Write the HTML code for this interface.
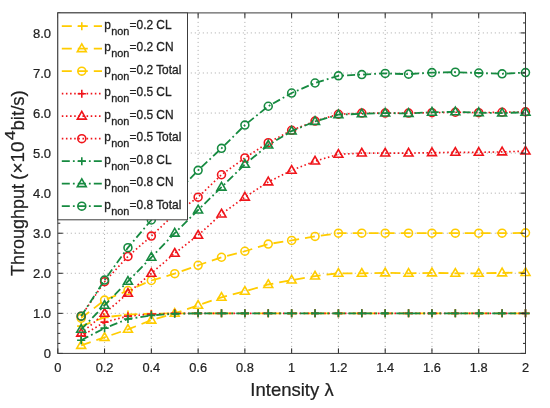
<!DOCTYPE html>
<html><head><meta charset="utf-8"><title>Throughput vs Intensity</title>
<style>html,body{margin:0;padding:0;background:#fff}svg{display:block}</style></head>
<body>
<svg width="550" height="408" viewBox="0 0 550 408" font-family="&quot;Liberation Sans&quot;, sans-serif">
<rect width="550" height="408" fill="#fff"/>
<path d="M104.57 13.90V353.40M151.34 13.90V353.40M198.11 13.90V353.40M244.88 13.90V353.40M291.65 13.90V353.40M338.42 13.90V353.40M385.19 13.90V353.40M431.96 13.90V353.40M478.73 13.90V353.40M58.80 313.34H525.50M58.80 273.28H525.50M58.80 233.22H525.50M58.80 193.16H525.50M58.80 153.11H525.50M58.80 113.05H525.50M58.80 72.99H525.50M58.80 32.93H525.50" stroke="#a8a8a8" stroke-width="1" stroke-dasharray="1 3" fill="none"/>
<g>
<polyline points="81.19,326.16 104.57,317.35 127.95,314.54 151.34,313.74 174.72,313.34 198.11,313.34 221.50,313.34 244.88,313.34 268.26,313.34 291.65,313.34 315.04,313.34 338.42,313.34 361.81,313.34 385.19,313.34 408.57,313.34 431.96,313.34 455.34,313.34 478.73,313.34 502.11,313.34 525.50,313.34" fill="none" stroke="#FFCC00" stroke-width="1.8" stroke-dasharray="10 6"/>
<path d="M77.09 326.16H85.28M81.19 322.16V330.16" stroke="#FFCC00" stroke-width="1.6" fill="none"/><path d="M100.47 317.35H108.67M104.57 313.35V321.35" stroke="#FFCC00" stroke-width="1.6" fill="none"/><path d="M123.86 314.54H132.06M127.95 310.54V318.54" stroke="#FFCC00" stroke-width="1.6" fill="none"/><path d="M147.24 313.74H155.44M151.34 309.74V317.74" stroke="#FFCC00" stroke-width="1.6" fill="none"/><path d="M170.62 313.34H178.82M174.72 309.34V317.34" stroke="#FFCC00" stroke-width="1.6" fill="none"/><path d="M194.01 313.34H202.21M198.11 309.34V317.34" stroke="#FFCC00" stroke-width="1.6" fill="none"/><path d="M217.40 313.34H225.59M221.50 309.34V317.34" stroke="#FFCC00" stroke-width="1.6" fill="none"/><path d="M240.78 313.34H248.98M244.88 309.34V317.34" stroke="#FFCC00" stroke-width="1.6" fill="none"/><path d="M264.16 313.34H272.37M268.26 309.34V317.34" stroke="#FFCC00" stroke-width="1.6" fill="none"/><path d="M287.55 313.34H295.75M291.65 309.34V317.34" stroke="#FFCC00" stroke-width="1.6" fill="none"/><path d="M310.94 313.34H319.14M315.04 309.34V317.34" stroke="#FFCC00" stroke-width="1.6" fill="none"/><path d="M334.32 313.34H342.52M338.42 309.34V317.34" stroke="#FFCC00" stroke-width="1.6" fill="none"/><path d="M357.70 313.34H365.91M361.81 309.34V317.34" stroke="#FFCC00" stroke-width="1.6" fill="none"/><path d="M381.09 313.34H389.29M385.19 309.34V317.34" stroke="#FFCC00" stroke-width="1.6" fill="none"/><path d="M404.47 313.34H412.68M408.57 309.34V317.34" stroke="#FFCC00" stroke-width="1.6" fill="none"/><path d="M427.86 313.34H436.06M431.96 309.34V317.34" stroke="#FFCC00" stroke-width="1.6" fill="none"/><path d="M451.24 313.34H459.44M455.34 309.34V317.34" stroke="#FFCC00" stroke-width="1.6" fill="none"/><path d="M474.63 313.34H482.83M478.73 309.34V317.34" stroke="#FFCC00" stroke-width="1.6" fill="none"/><path d="M498.01 313.34H506.21M502.11 309.34V317.34" stroke="#FFCC00" stroke-width="1.6" fill="none"/><path d="M521.40 313.34H529.60M525.50 309.34V317.34" stroke="#FFCC00" stroke-width="1.6" fill="none"/>

<polyline points="81.19,345.39 104.57,337.38 127.95,329.36 151.34,320.15 174.72,313.34 198.11,305.33 221.50,297.32 244.88,291.31 268.26,284.50 291.65,280.09 315.04,276.09 338.42,273.28 361.81,273.28 385.19,272.88 408.57,273.28 431.96,272.88 455.34,273.28 478.73,273.28 502.11,272.88 525.50,272.48" fill="none" stroke="#FFCC00" stroke-width="1.8" stroke-dasharray="10 6"/>
<path d="M81.19 340.64L85.64 348.34H76.73Z" stroke="#FFCC00" stroke-width="1.6" fill="none" stroke-linejoin="miter"/><path d="M104.57 332.63L109.02 340.33H100.12Z" stroke="#FFCC00" stroke-width="1.6" fill="none" stroke-linejoin="miter"/><path d="M127.95 324.61L132.41 332.31H123.50Z" stroke="#FFCC00" stroke-width="1.6" fill="none" stroke-linejoin="miter"/><path d="M151.34 315.40L155.79 323.10H146.89Z" stroke="#FFCC00" stroke-width="1.6" fill="none" stroke-linejoin="miter"/><path d="M174.72 308.59L179.17 316.29H170.28Z" stroke="#FFCC00" stroke-width="1.6" fill="none" stroke-linejoin="miter"/><path d="M198.11 300.58L202.56 308.28H193.66Z" stroke="#FFCC00" stroke-width="1.6" fill="none" stroke-linejoin="miter"/><path d="M221.50 292.57L225.94 300.27H217.05Z" stroke="#FFCC00" stroke-width="1.6" fill="none" stroke-linejoin="miter"/><path d="M244.88 286.56L249.33 294.26H240.43Z" stroke="#FFCC00" stroke-width="1.6" fill="none" stroke-linejoin="miter"/><path d="M268.26 279.75L272.71 287.45H263.81Z" stroke="#FFCC00" stroke-width="1.6" fill="none" stroke-linejoin="miter"/><path d="M291.65 275.34L296.10 283.04H287.20Z" stroke="#FFCC00" stroke-width="1.6" fill="none" stroke-linejoin="miter"/><path d="M315.04 271.34L319.49 279.04H310.59Z" stroke="#FFCC00" stroke-width="1.6" fill="none" stroke-linejoin="miter"/><path d="M338.42 268.53L342.87 276.23H333.97Z" stroke="#FFCC00" stroke-width="1.6" fill="none" stroke-linejoin="miter"/><path d="M361.81 268.53L366.25 276.23H357.36Z" stroke="#FFCC00" stroke-width="1.6" fill="none" stroke-linejoin="miter"/><path d="M385.19 268.13L389.64 275.83H380.74Z" stroke="#FFCC00" stroke-width="1.6" fill="none" stroke-linejoin="miter"/><path d="M408.57 268.53L413.02 276.23H404.12Z" stroke="#FFCC00" stroke-width="1.6" fill="none" stroke-linejoin="miter"/><path d="M431.96 268.13L436.41 275.83H427.51Z" stroke="#FFCC00" stroke-width="1.6" fill="none" stroke-linejoin="miter"/><path d="M455.34 268.53L459.79 276.23H450.89Z" stroke="#FFCC00" stroke-width="1.6" fill="none" stroke-linejoin="miter"/><path d="M478.73 268.53L483.18 276.23H474.28Z" stroke="#FFCC00" stroke-width="1.6" fill="none" stroke-linejoin="miter"/><path d="M502.11 268.13L506.56 275.83H497.66Z" stroke="#FFCC00" stroke-width="1.6" fill="none" stroke-linejoin="miter"/><path d="M525.50 267.73L529.95 275.43H521.05Z" stroke="#FFCC00" stroke-width="1.6" fill="none" stroke-linejoin="miter"/>

<polyline points="81.19,318.15 104.57,300.12 127.95,290.51 151.34,280.49 174.72,273.68 198.11,265.27 221.50,257.26 244.88,251.25 268.26,244.04 291.65,240.43 315.04,236.43 338.42,233.22 361.81,233.22 385.19,233.22 408.57,233.22 431.96,233.22 455.34,233.22 478.73,233.22 502.11,233.22 525.50,232.82" fill="none" stroke="#FFCC00" stroke-width="1.8" stroke-dasharray="10 6"/>
<circle cx="81.19" cy="318.15" r="3.95" stroke="#FFCC00" stroke-width="1.6" fill="none"/><circle cx="104.57" cy="300.12" r="3.95" stroke="#FFCC00" stroke-width="1.6" fill="none"/><circle cx="127.95" cy="290.51" r="3.95" stroke="#FFCC00" stroke-width="1.6" fill="none"/><circle cx="151.34" cy="280.49" r="3.95" stroke="#FFCC00" stroke-width="1.6" fill="none"/><circle cx="174.72" cy="273.68" r="3.95" stroke="#FFCC00" stroke-width="1.6" fill="none"/><circle cx="198.11" cy="265.27" r="3.95" stroke="#FFCC00" stroke-width="1.6" fill="none"/><circle cx="221.50" cy="257.26" r="3.95" stroke="#FFCC00" stroke-width="1.6" fill="none"/><circle cx="244.88" cy="251.25" r="3.95" stroke="#FFCC00" stroke-width="1.6" fill="none"/><circle cx="268.26" cy="244.04" r="3.95" stroke="#FFCC00" stroke-width="1.6" fill="none"/><circle cx="291.65" cy="240.43" r="3.95" stroke="#FFCC00" stroke-width="1.6" fill="none"/><circle cx="315.04" cy="236.43" r="3.95" stroke="#FFCC00" stroke-width="1.6" fill="none"/><circle cx="338.42" cy="233.22" r="3.95" stroke="#FFCC00" stroke-width="1.6" fill="none"/><circle cx="361.81" cy="233.22" r="3.95" stroke="#FFCC00" stroke-width="1.6" fill="none"/><circle cx="385.19" cy="233.22" r="3.95" stroke="#FFCC00" stroke-width="1.6" fill="none"/><circle cx="408.57" cy="233.22" r="3.95" stroke="#FFCC00" stroke-width="1.6" fill="none"/><circle cx="431.96" cy="233.22" r="3.95" stroke="#FFCC00" stroke-width="1.6" fill="none"/><circle cx="455.34" cy="233.22" r="3.95" stroke="#FFCC00" stroke-width="1.6" fill="none"/><circle cx="478.73" cy="233.22" r="3.95" stroke="#FFCC00" stroke-width="1.6" fill="none"/><circle cx="502.11" cy="233.22" r="3.95" stroke="#FFCC00" stroke-width="1.6" fill="none"/><circle cx="525.50" cy="232.82" r="3.95" stroke="#FFCC00" stroke-width="1.6" fill="none"/>

<polyline points="81.19,336.17 104.57,322.15 127.95,316.15 151.34,314.14 174.72,313.34 198.11,313.34 221.50,313.34 244.88,313.34 268.26,313.34 291.65,313.34 315.04,313.34 338.42,313.34 361.81,313.34 385.19,313.34 408.57,313.34 431.96,313.34 455.34,313.34 478.73,313.34 502.11,313.34 525.50,313.34" fill="none" stroke="#F0141A" stroke-width="1.65" stroke-dasharray="1.55 2.58"/>
<path d="M77.09 336.17H85.28M81.19 332.17V340.17" stroke="#F0141A" stroke-width="1.6" fill="none"/><path d="M100.47 322.15H108.67M104.57 318.15V326.15" stroke="#F0141A" stroke-width="1.6" fill="none"/><path d="M123.86 316.15H132.06M127.95 312.15V320.15" stroke="#F0141A" stroke-width="1.6" fill="none"/><path d="M147.24 314.14H155.44M151.34 310.14V318.14" stroke="#F0141A" stroke-width="1.6" fill="none"/><path d="M170.62 313.34H178.82M174.72 309.34V317.34" stroke="#F0141A" stroke-width="1.6" fill="none"/><path d="M194.01 313.34H202.21M198.11 309.34V317.34" stroke="#F0141A" stroke-width="1.6" fill="none"/><path d="M217.40 313.34H225.59M221.50 309.34V317.34" stroke="#F0141A" stroke-width="1.6" fill="none"/><path d="M240.78 313.34H248.98M244.88 309.34V317.34" stroke="#F0141A" stroke-width="1.6" fill="none"/><path d="M264.16 313.34H272.37M268.26 309.34V317.34" stroke="#F0141A" stroke-width="1.6" fill="none"/><path d="M287.55 313.34H295.75M291.65 309.34V317.34" stroke="#F0141A" stroke-width="1.6" fill="none"/><path d="M310.94 313.34H319.14M315.04 309.34V317.34" stroke="#F0141A" stroke-width="1.6" fill="none"/><path d="M334.32 313.34H342.52M338.42 309.34V317.34" stroke="#F0141A" stroke-width="1.6" fill="none"/><path d="M357.70 313.34H365.91M361.81 309.34V317.34" stroke="#F0141A" stroke-width="1.6" fill="none"/><path d="M381.09 313.34H389.29M385.19 309.34V317.34" stroke="#F0141A" stroke-width="1.6" fill="none"/><path d="M404.47 313.34H412.68M408.57 309.34V317.34" stroke="#F0141A" stroke-width="1.6" fill="none"/><path d="M427.86 313.34H436.06M431.96 309.34V317.34" stroke="#F0141A" stroke-width="1.6" fill="none"/><path d="M451.24 313.34H459.44M455.34 309.34V317.34" stroke="#F0141A" stroke-width="1.6" fill="none"/><path d="M474.63 313.34H482.83M478.73 309.34V317.34" stroke="#F0141A" stroke-width="1.6" fill="none"/><path d="M498.01 313.34H506.21M502.11 309.34V317.34" stroke="#F0141A" stroke-width="1.6" fill="none"/><path d="M521.40 313.34H529.60M525.50 309.34V317.34" stroke="#F0141A" stroke-width="1.6" fill="none"/>

<polyline points="81.19,333.37 104.57,313.34 127.95,293.31 151.34,273.28 174.72,253.25 198.11,235.23 221.50,214.00 244.88,197.17 268.26,181.95 291.65,170.33 315.04,161.12 338.42,154.31 361.81,153.11 385.19,153.11 408.57,153.11 431.96,152.71 455.34,152.30 478.73,152.30 502.11,151.90 525.50,151.10" fill="none" stroke="#F0141A" stroke-width="1.65" stroke-dasharray="1.55 2.58"/>
<path d="M81.19 328.62L85.64 336.32H76.73Z" stroke="#F0141A" stroke-width="1.6" fill="none" stroke-linejoin="miter"/><path d="M104.57 308.59L109.02 316.29H100.12Z" stroke="#F0141A" stroke-width="1.6" fill="none" stroke-linejoin="miter"/><path d="M127.95 288.56L132.41 296.26H123.50Z" stroke="#F0141A" stroke-width="1.6" fill="none" stroke-linejoin="miter"/><path d="M151.34 268.53L155.79 276.23H146.89Z" stroke="#F0141A" stroke-width="1.6" fill="none" stroke-linejoin="miter"/><path d="M174.72 248.50L179.17 256.20H170.28Z" stroke="#F0141A" stroke-width="1.6" fill="none" stroke-linejoin="miter"/><path d="M198.11 230.48L202.56 238.18H193.66Z" stroke="#F0141A" stroke-width="1.6" fill="none" stroke-linejoin="miter"/><path d="M221.50 209.25L225.94 216.95H217.05Z" stroke="#F0141A" stroke-width="1.6" fill="none" stroke-linejoin="miter"/><path d="M244.88 192.42L249.33 200.12H240.43Z" stroke="#F0141A" stroke-width="1.6" fill="none" stroke-linejoin="miter"/><path d="M268.26 177.20L272.71 184.90H263.81Z" stroke="#F0141A" stroke-width="1.6" fill="none" stroke-linejoin="miter"/><path d="M291.65 165.58L296.10 173.28H287.20Z" stroke="#F0141A" stroke-width="1.6" fill="none" stroke-linejoin="miter"/><path d="M315.04 156.37L319.49 164.07H310.59Z" stroke="#F0141A" stroke-width="1.6" fill="none" stroke-linejoin="miter"/><path d="M338.42 149.56L342.87 157.26H333.97Z" stroke="#F0141A" stroke-width="1.6" fill="none" stroke-linejoin="miter"/><path d="M361.81 148.36L366.25 156.06H357.36Z" stroke="#F0141A" stroke-width="1.6" fill="none" stroke-linejoin="miter"/><path d="M385.19 148.36L389.64 156.06H380.74Z" stroke="#F0141A" stroke-width="1.6" fill="none" stroke-linejoin="miter"/><path d="M408.57 148.36L413.02 156.06H404.12Z" stroke="#F0141A" stroke-width="1.6" fill="none" stroke-linejoin="miter"/><path d="M431.96 147.96L436.41 155.66H427.51Z" stroke="#F0141A" stroke-width="1.6" fill="none" stroke-linejoin="miter"/><path d="M455.34 147.55L459.79 155.25H450.89Z" stroke="#F0141A" stroke-width="1.6" fill="none" stroke-linejoin="miter"/><path d="M478.73 147.55L483.18 155.25H474.28Z" stroke="#F0141A" stroke-width="1.6" fill="none" stroke-linejoin="miter"/><path d="M502.11 147.15L506.56 154.85H497.66Z" stroke="#F0141A" stroke-width="1.6" fill="none" stroke-linejoin="miter"/><path d="M525.50 146.35L529.95 154.05H521.05Z" stroke="#F0141A" stroke-width="1.6" fill="none" stroke-linejoin="miter"/>

<polyline points="81.19,316.15 104.57,281.69 127.95,256.46 151.34,236.03 174.72,214.00 198.11,197.17 221.50,174.74 244.88,157.91 268.26,142.69 291.65,130.27 315.04,121.06 338.42,114.25 361.81,113.05 385.19,113.05 408.57,113.05 431.96,112.65 455.34,112.25 478.73,112.65 502.11,112.25 525.50,111.85" fill="none" stroke="#F0141A" stroke-width="1.65" stroke-dasharray="1.55 2.58"/>
<circle cx="81.19" cy="316.15" r="3.95" stroke="#F0141A" stroke-width="1.6" fill="none"/><circle cx="104.57" cy="281.69" r="3.95" stroke="#F0141A" stroke-width="1.6" fill="none"/><circle cx="127.95" cy="256.46" r="3.95" stroke="#F0141A" stroke-width="1.6" fill="none"/><circle cx="151.34" cy="236.03" r="3.95" stroke="#F0141A" stroke-width="1.6" fill="none"/><circle cx="174.72" cy="214.00" r="3.95" stroke="#F0141A" stroke-width="1.6" fill="none"/><circle cx="198.11" cy="197.17" r="3.95" stroke="#F0141A" stroke-width="1.6" fill="none"/><circle cx="221.50" cy="174.74" r="3.95" stroke="#F0141A" stroke-width="1.6" fill="none"/><circle cx="244.88" cy="157.91" r="3.95" stroke="#F0141A" stroke-width="1.6" fill="none"/><circle cx="268.26" cy="142.69" r="3.95" stroke="#F0141A" stroke-width="1.6" fill="none"/><circle cx="291.65" cy="130.27" r="3.95" stroke="#F0141A" stroke-width="1.6" fill="none"/><circle cx="315.04" cy="121.06" r="3.95" stroke="#F0141A" stroke-width="1.6" fill="none"/><circle cx="338.42" cy="114.25" r="3.95" stroke="#F0141A" stroke-width="1.6" fill="none"/><circle cx="361.81" cy="113.05" r="3.95" stroke="#F0141A" stroke-width="1.6" fill="none"/><circle cx="385.19" cy="113.05" r="3.95" stroke="#F0141A" stroke-width="1.6" fill="none"/><circle cx="408.57" cy="113.05" r="3.95" stroke="#F0141A" stroke-width="1.6" fill="none"/><circle cx="431.96" cy="112.65" r="3.95" stroke="#F0141A" stroke-width="1.6" fill="none"/><circle cx="455.34" cy="112.25" r="3.95" stroke="#F0141A" stroke-width="1.6" fill="none"/><circle cx="478.73" cy="112.65" r="3.95" stroke="#F0141A" stroke-width="1.6" fill="none"/><circle cx="502.11" cy="112.25" r="3.95" stroke="#F0141A" stroke-width="1.6" fill="none"/><circle cx="525.50" cy="111.85" r="3.95" stroke="#F0141A" stroke-width="1.6" fill="none"/>

<polyline points="81.19,340.18 104.57,328.16 127.95,318.95 151.34,315.34 174.72,313.74 198.11,313.34 221.50,313.34 244.88,313.34 268.26,313.34 291.65,313.34 315.04,313.34 338.42,313.34 361.81,313.34 385.19,313.34 408.57,313.34 431.96,313.34 455.34,313.34 478.73,313.34 502.11,313.34 525.50,313.34" fill="none" stroke="#168A40" stroke-width="1.8" stroke-dasharray="8 3.1 1.8 3.1"/>
<path d="M77.09 340.18H85.28M81.19 336.18V344.18" stroke="#168A40" stroke-width="1.6" fill="none"/><path d="M100.47 328.16H108.67M104.57 324.16V332.16" stroke="#168A40" stroke-width="1.6" fill="none"/><path d="M123.86 318.95H132.06M127.95 314.95V322.95" stroke="#168A40" stroke-width="1.6" fill="none"/><path d="M147.24 315.34H155.44M151.34 311.34V319.34" stroke="#168A40" stroke-width="1.6" fill="none"/><path d="M170.62 313.74H178.82M174.72 309.74V317.74" stroke="#168A40" stroke-width="1.6" fill="none"/><path d="M194.01 313.34H202.21M198.11 309.34V317.34" stroke="#168A40" stroke-width="1.6" fill="none"/><path d="M217.40 313.34H225.59M221.50 309.34V317.34" stroke="#168A40" stroke-width="1.6" fill="none"/><path d="M240.78 313.34H248.98M244.88 309.34V317.34" stroke="#168A40" stroke-width="1.6" fill="none"/><path d="M264.16 313.34H272.37M268.26 309.34V317.34" stroke="#168A40" stroke-width="1.6" fill="none"/><path d="M287.55 313.34H295.75M291.65 309.34V317.34" stroke="#168A40" stroke-width="1.6" fill="none"/><path d="M310.94 313.34H319.14M315.04 309.34V317.34" stroke="#168A40" stroke-width="1.6" fill="none"/><path d="M334.32 313.34H342.52M338.42 309.34V317.34" stroke="#168A40" stroke-width="1.6" fill="none"/><path d="M357.70 313.34H365.91M361.81 309.34V317.34" stroke="#168A40" stroke-width="1.6" fill="none"/><path d="M381.09 313.34H389.29M385.19 309.34V317.34" stroke="#168A40" stroke-width="1.6" fill="none"/><path d="M404.47 313.34H412.68M408.57 309.34V317.34" stroke="#168A40" stroke-width="1.6" fill="none"/><path d="M427.86 313.34H436.06M431.96 309.34V317.34" stroke="#168A40" stroke-width="1.6" fill="none"/><path d="M451.24 313.34H459.44M455.34 309.34V317.34" stroke="#168A40" stroke-width="1.6" fill="none"/><path d="M474.63 313.34H482.83M478.73 309.34V317.34" stroke="#168A40" stroke-width="1.6" fill="none"/><path d="M498.01 313.34H506.21M502.11 309.34V317.34" stroke="#168A40" stroke-width="1.6" fill="none"/><path d="M521.40 313.34H529.60M525.50 309.34V317.34" stroke="#168A40" stroke-width="1.6" fill="none"/>

<polyline points="81.19,329.36 104.57,305.33 127.95,281.29 151.34,257.26 174.72,233.22 198.11,209.99 221.50,187.16 244.88,164.32 268.26,145.09 291.65,131.07 315.04,121.46 338.42,114.65 361.81,113.85 385.19,113.05 408.57,113.45 431.96,112.25 455.34,111.85 478.73,112.65 502.11,113.05 525.50,112.25" fill="none" stroke="#168A40" stroke-width="1.8" stroke-dasharray="8 3.1 1.8 3.1"/>
<path d="M81.19 324.61L85.64 332.31H76.73Z" stroke="#168A40" stroke-width="1.6" fill="none" stroke-linejoin="miter"/><path d="M104.57 300.58L109.02 308.28H100.12Z" stroke="#168A40" stroke-width="1.6" fill="none" stroke-linejoin="miter"/><path d="M127.95 276.54L132.41 284.24H123.50Z" stroke="#168A40" stroke-width="1.6" fill="none" stroke-linejoin="miter"/><path d="M151.34 252.51L155.79 260.21H146.89Z" stroke="#168A40" stroke-width="1.6" fill="none" stroke-linejoin="miter"/><path d="M174.72 228.47L179.17 236.17H170.28Z" stroke="#168A40" stroke-width="1.6" fill="none" stroke-linejoin="miter"/><path d="M198.11 205.24L202.56 212.94H193.66Z" stroke="#168A40" stroke-width="1.6" fill="none" stroke-linejoin="miter"/><path d="M221.50 182.41L225.94 190.11H217.05Z" stroke="#168A40" stroke-width="1.6" fill="none" stroke-linejoin="miter"/><path d="M244.88 159.57L249.33 167.27H240.43Z" stroke="#168A40" stroke-width="1.6" fill="none" stroke-linejoin="miter"/><path d="M268.26 140.34L272.71 148.04H263.81Z" stroke="#168A40" stroke-width="1.6" fill="none" stroke-linejoin="miter"/><path d="M291.65 126.32L296.10 134.02H287.20Z" stroke="#168A40" stroke-width="1.6" fill="none" stroke-linejoin="miter"/><path d="M315.04 116.71L319.49 124.41H310.59Z" stroke="#168A40" stroke-width="1.6" fill="none" stroke-linejoin="miter"/><path d="M338.42 109.90L342.87 117.60H333.97Z" stroke="#168A40" stroke-width="1.6" fill="none" stroke-linejoin="miter"/><path d="M361.81 109.10L366.25 116.80H357.36Z" stroke="#168A40" stroke-width="1.6" fill="none" stroke-linejoin="miter"/><path d="M385.19 108.30L389.64 116.00H380.74Z" stroke="#168A40" stroke-width="1.6" fill="none" stroke-linejoin="miter"/><path d="M408.57 108.70L413.02 116.40H404.12Z" stroke="#168A40" stroke-width="1.6" fill="none" stroke-linejoin="miter"/><path d="M431.96 107.50L436.41 115.20H427.51Z" stroke="#168A40" stroke-width="1.6" fill="none" stroke-linejoin="miter"/><path d="M455.34 107.10L459.79 114.80H450.89Z" stroke="#168A40" stroke-width="1.6" fill="none" stroke-linejoin="miter"/><path d="M478.73 107.90L483.18 115.60H474.28Z" stroke="#168A40" stroke-width="1.6" fill="none" stroke-linejoin="miter"/><path d="M502.11 108.30L506.56 116.00H497.66Z" stroke="#168A40" stroke-width="1.6" fill="none" stroke-linejoin="miter"/><path d="M525.50 107.50L529.95 115.20H521.05Z" stroke="#168A40" stroke-width="1.6" fill="none" stroke-linejoin="miter"/>

<polyline points="81.19,316.15 104.57,280.09 127.95,247.64 151.34,220.00 174.72,194.37 198.11,170.33 221.50,148.30 244.88,125.06 268.26,106.24 291.65,93.02 315.04,83.00 338.42,75.79 361.81,74.59 385.19,73.39 408.57,74.19 431.96,72.59 455.34,72.19 478.73,72.99 502.11,73.79 525.50,72.59" fill="none" stroke="#168A40" stroke-width="1.8" stroke-dasharray="8 3.1 1.8 3.1"/>
<circle cx="81.19" cy="316.15" r="3.95" stroke="#168A40" stroke-width="1.6" fill="none"/><circle cx="104.57" cy="280.09" r="3.95" stroke="#168A40" stroke-width="1.6" fill="none"/><circle cx="127.95" cy="247.64" r="3.95" stroke="#168A40" stroke-width="1.6" fill="none"/><circle cx="151.34" cy="220.00" r="3.95" stroke="#168A40" stroke-width="1.6" fill="none"/><circle cx="174.72" cy="194.37" r="3.95" stroke="#168A40" stroke-width="1.6" fill="none"/><circle cx="198.11" cy="170.33" r="3.95" stroke="#168A40" stroke-width="1.6" fill="none"/><circle cx="221.50" cy="148.30" r="3.95" stroke="#168A40" stroke-width="1.6" fill="none"/><circle cx="244.88" cy="125.06" r="3.95" stroke="#168A40" stroke-width="1.6" fill="none"/><circle cx="268.26" cy="106.24" r="3.95" stroke="#168A40" stroke-width="1.6" fill="none"/><circle cx="291.65" cy="93.02" r="3.95" stroke="#168A40" stroke-width="1.6" fill="none"/><circle cx="315.04" cy="83.00" r="3.95" stroke="#168A40" stroke-width="1.6" fill="none"/><circle cx="338.42" cy="75.79" r="3.95" stroke="#168A40" stroke-width="1.6" fill="none"/><circle cx="361.81" cy="74.59" r="3.95" stroke="#168A40" stroke-width="1.6" fill="none"/><circle cx="385.19" cy="73.39" r="3.95" stroke="#168A40" stroke-width="1.6" fill="none"/><circle cx="408.57" cy="74.19" r="3.95" stroke="#168A40" stroke-width="1.6" fill="none"/><circle cx="431.96" cy="72.59" r="3.95" stroke="#168A40" stroke-width="1.6" fill="none"/><circle cx="455.34" cy="72.19" r="3.95" stroke="#168A40" stroke-width="1.6" fill="none"/><circle cx="478.73" cy="72.99" r="3.95" stroke="#168A40" stroke-width="1.6" fill="none"/><circle cx="502.11" cy="73.79" r="3.95" stroke="#168A40" stroke-width="1.6" fill="none"/><circle cx="525.50" cy="72.59" r="3.95" stroke="#168A40" stroke-width="1.6" fill="none"/>

</g>
<path d="M57.80 353.40v-5M57.80 12.90v5M104.57 353.40v-5M104.57 12.90v5M151.34 353.40v-5M151.34 12.90v5M198.11 353.40v-5M198.11 12.90v5M244.88 353.40v-5M244.88 12.90v5M291.65 353.40v-5M291.65 12.90v5M338.42 353.40v-5M338.42 12.90v5M385.19 353.40v-5M385.19 12.90v5M431.96 353.40v-5M431.96 12.90v5M478.73 353.40v-5M478.73 12.90v5M525.50 353.40v-5M525.50 12.90v5M57.80 353.40h5M525.50 353.40h-5M57.80 343.39h2.5M525.50 343.39h-2.5M57.80 333.37h2.5M525.50 333.37h-2.5M57.80 323.36h2.5M525.50 323.36h-2.5M57.80 313.34h5M525.50 313.34h-5M57.80 303.33h2.5M525.50 303.33h-2.5M57.80 293.31h2.5M525.50 293.31h-2.5M57.80 283.30h2.5M525.50 283.30h-2.5M57.80 273.28h5M525.50 273.28h-5M57.80 263.27h2.5M525.50 263.27h-2.5M57.80 253.25h2.5M525.50 253.25h-2.5M57.80 243.24h2.5M525.50 243.24h-2.5M57.80 233.22h5M525.50 233.22h-5M57.80 223.21h2.5M525.50 223.21h-2.5M57.80 213.19h2.5M525.50 213.19h-2.5M57.80 203.18h2.5M525.50 203.18h-2.5M57.80 193.16h5M525.50 193.16h-5M57.80 183.15h2.5M525.50 183.15h-2.5M57.80 173.14h2.5M525.50 173.14h-2.5M57.80 163.12h2.5M525.50 163.12h-2.5M57.80 153.11h5M525.50 153.11h-5M57.80 143.09h2.5M525.50 143.09h-2.5M57.80 133.08h2.5M525.50 133.08h-2.5M57.80 123.06h2.5M525.50 123.06h-2.5M57.80 113.05h5M525.50 113.05h-5M57.80 103.03h2.5M525.50 103.03h-2.5M57.80 93.02h2.5M525.50 93.02h-2.5M57.80 83.00h2.5M525.50 83.00h-2.5M57.80 72.99h5M525.50 72.99h-5M57.80 62.97h2.5M525.50 62.97h-2.5M57.80 52.96h2.5M525.50 52.96h-2.5M57.80 42.94h2.5M525.50 42.94h-2.5M57.80 32.93h5M525.50 32.93h-5M57.80 22.91h2.5M525.50 22.91h-2.5M57.80 12.90h2.5M525.50 12.90h-2.5" stroke="#222" stroke-width="1" fill="none"/>
<rect x="57.8" y="12.9" width="467.7" height="340.5" fill="none" stroke="#3c3c3c" stroke-width="1"/>
<g font-size="13" fill="#222" stroke="#222" stroke-width="0.22">
<text x="57.80" y="372.1" font-size="12.8" text-anchor="middle">0</text>
<text x="104.57" y="372.1" font-size="12.8" text-anchor="middle">0.2</text>
<text x="151.34" y="372.1" font-size="12.8" text-anchor="middle">0.4</text>
<text x="198.11" y="372.1" font-size="12.8" text-anchor="middle">0.6</text>
<text x="244.88" y="372.1" font-size="12.8" text-anchor="middle">0.8</text>
<text x="291.65" y="372.1" font-size="12.8" text-anchor="middle">1</text>
<text x="338.42" y="372.1" font-size="12.8" text-anchor="middle">1.2</text>
<text x="385.19" y="372.1" font-size="12.8" text-anchor="middle">1.4</text>
<text x="431.96" y="372.1" font-size="12.8" text-anchor="middle">1.6</text>
<text x="478.73" y="372.1" font-size="12.8" text-anchor="middle">1.8</text>
<text x="525.50" y="372.1" font-size="12.8" text-anchor="middle">2</text>
<text x="51" y="358.20" text-anchor="end">0</text>
<text x="51" y="318.14" text-anchor="end">1.0</text>
<text x="51" y="278.08" text-anchor="end">2.0</text>
<text x="51" y="238.02" text-anchor="end">3.0</text>
<text x="51" y="197.96" text-anchor="end">4.0</text>
<text x="51" y="157.91" text-anchor="end">5.0</text>
<text x="51" y="117.85" text-anchor="end">6.0</text>
<text x="51" y="77.79" text-anchor="end">7.0</text>
<text x="51" y="37.73" text-anchor="end">8.0</text>
</g>
<text x="292" y="395.8" font-size="18.5" text-anchor="middle" fill="#222" stroke="#222" stroke-width="0.22">Intensity λ</text>
<text transform="translate(24.3,0) rotate(-90)" fill="#222" stroke="#222" stroke-width="0.22"><tspan x="-276" y="0" font-size="18">Throughput </tspan><tspan x="-179.9" y="0" font-size="18.9">(×10</tspan><tspan x="-140.2" y="-9.6" font-size="14.7" textLength="9.9" lengthAdjust="spacingAndGlyphs">4</tspan><tspan x="-130.5" y="0" font-size="18.6">bit/s)</tspan></text>
<rect x="57.8" y="12.9" width="129.7" height="206.9" fill="#fff" stroke="#3c3c3c" stroke-width="1"/>
<path d="M61.8 26.20H102" stroke="#FFCC00" stroke-width="1.8" stroke-dasharray="10 6" fill="none"/>
<path d="M77.70 26.20H85.90M81.80 22.20V30.20" stroke="#FFCC00" stroke-width="1.6" fill="none"/>
<text fill="#222" stroke="#222" stroke-width="0.3" font-size="11.9"><tspan x="104.2" y="28.60">p</tspan><tspan x="111.2" y="34.50" font-size="10.9">non</tspan><tspan x="129.6" y="28.60">=0.2 CL</tspan></text>
<path d="M61.8 48.70H102" stroke="#FFCC00" stroke-width="1.8" stroke-dasharray="10 6" fill="none"/>
<path d="M81.80 43.95L86.25 51.65H77.35Z" stroke="#FFCC00" stroke-width="1.6" fill="none" stroke-linejoin="miter"/>
<text fill="#222" stroke="#222" stroke-width="0.3" font-size="11.9"><tspan x="104.2" y="51.10">p</tspan><tspan x="111.2" y="57.00" font-size="10.9">non</tspan><tspan x="129.6" y="51.10">=0.2 CN</tspan></text>
<path d="M61.8 71.20H102" stroke="#FFCC00" stroke-width="1.8" stroke-dasharray="10 6" fill="none"/>
<circle cx="81.80" cy="71.20" r="3.95" stroke="#FFCC00" stroke-width="1.6" fill="none"/>
<text fill="#222" stroke="#222" stroke-width="0.3" font-size="11.9"><tspan x="104.2" y="73.60">p</tspan><tspan x="111.2" y="79.50" font-size="10.9">non</tspan><tspan x="129.6" y="73.60">=0.2 Total</tspan></text>
<path d="M61.8 93.70H102" stroke="#F0141A" stroke-width="1.8" stroke-dasharray="1.55 2.58" fill="none"/>
<path d="M77.70 93.70H85.90M81.80 89.70V97.70" stroke="#F0141A" stroke-width="1.6" fill="none"/>
<text fill="#222" stroke="#222" stroke-width="0.3" font-size="11.9"><tspan x="104.2" y="96.10">p</tspan><tspan x="111.2" y="102.00" font-size="10.9">non</tspan><tspan x="129.6" y="96.10">=0.5 CL</tspan></text>
<path d="M61.8 116.20H102" stroke="#F0141A" stroke-width="1.8" stroke-dasharray="1.55 2.58" fill="none"/>
<path d="M81.80 111.45L86.25 119.15H77.35Z" stroke="#F0141A" stroke-width="1.6" fill="none" stroke-linejoin="miter"/>
<text fill="#222" stroke="#222" stroke-width="0.3" font-size="11.9"><tspan x="104.2" y="118.60">p</tspan><tspan x="111.2" y="124.50" font-size="10.9">non</tspan><tspan x="129.6" y="118.60">=0.5 CN</tspan></text>
<path d="M61.8 138.70H102" stroke="#F0141A" stroke-width="1.8" stroke-dasharray="1.55 2.58" fill="none"/>
<circle cx="81.80" cy="138.70" r="3.95" stroke="#F0141A" stroke-width="1.6" fill="none"/>
<text fill="#222" stroke="#222" stroke-width="0.3" font-size="11.9"><tspan x="104.2" y="141.10">p</tspan><tspan x="111.2" y="147.00" font-size="10.9">non</tspan><tspan x="129.6" y="141.10">=0.5 Total</tspan></text>
<path d="M61.8 161.20H102" stroke="#168A40" stroke-width="1.8" stroke-dasharray="8 3.1 1.8 3.1" fill="none"/>
<path d="M77.70 161.20H85.90M81.80 157.20V165.20" stroke="#168A40" stroke-width="1.6" fill="none"/>
<text fill="#222" stroke="#222" stroke-width="0.3" font-size="11.9"><tspan x="104.2" y="163.60">p</tspan><tspan x="111.2" y="169.50" font-size="10.9">non</tspan><tspan x="129.6" y="163.60">=0.8 CL</tspan></text>
<path d="M61.8 183.70H102" stroke="#168A40" stroke-width="1.8" stroke-dasharray="8 3.1 1.8 3.1" fill="none"/>
<path d="M81.80 178.95L86.25 186.65H77.35Z" stroke="#168A40" stroke-width="1.6" fill="none" stroke-linejoin="miter"/>
<text fill="#222" stroke="#222" stroke-width="0.3" font-size="11.9"><tspan x="104.2" y="186.10">p</tspan><tspan x="111.2" y="192.00" font-size="10.9">non</tspan><tspan x="129.6" y="186.10">=0.8 CN</tspan></text>
<path d="M61.8 206.20H102" stroke="#168A40" stroke-width="1.8" stroke-dasharray="8 3.1 1.8 3.1" fill="none"/>
<circle cx="81.80" cy="206.20" r="3.95" stroke="#168A40" stroke-width="1.6" fill="none"/>
<text fill="#222" stroke="#222" stroke-width="0.3" font-size="11.9"><tspan x="104.2" y="208.60">p</tspan><tspan x="111.2" y="214.50" font-size="10.9">non</tspan><tspan x="129.6" y="208.60">=0.8 Total</tspan></text>
</svg>
</body></html>
